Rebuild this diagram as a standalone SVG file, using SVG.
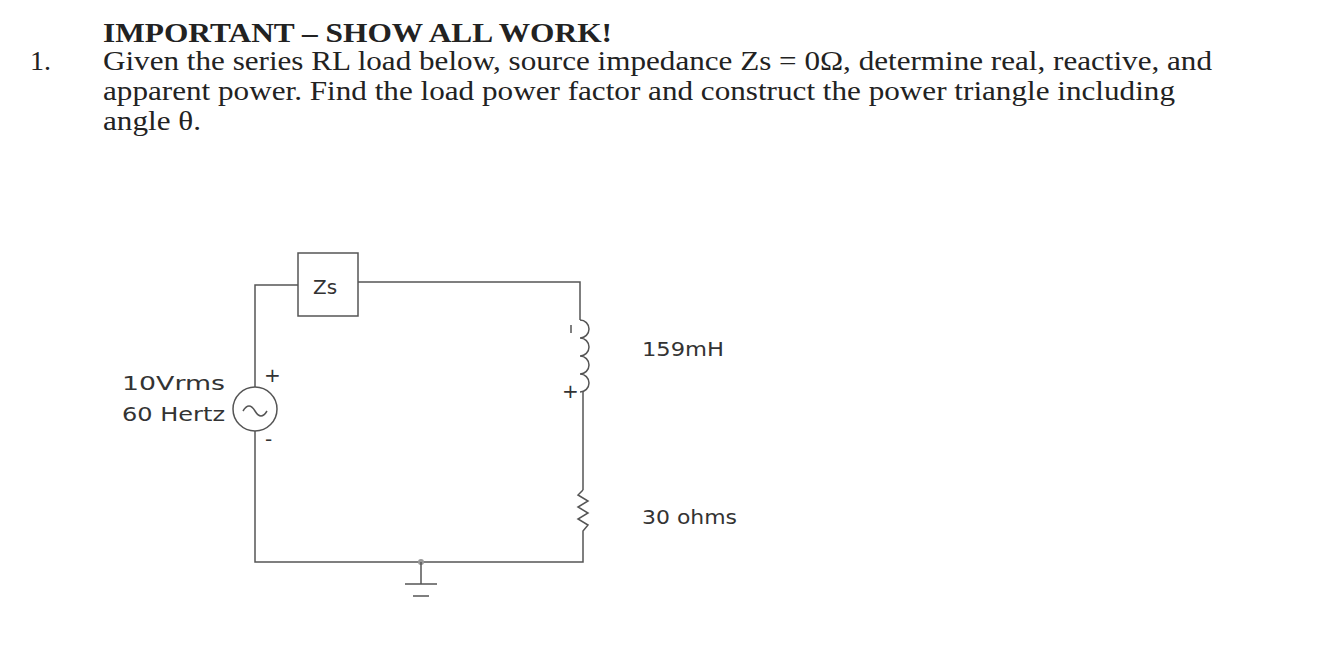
<svg xmlns="http://www.w3.org/2000/svg" width="1338" height="650" viewBox="0 0 1338 650">
<style>
.t{font-family:"Liberation Serif",serif;font-size:28px;fill:#222}
.c{font-family:"DejaVu Sans",sans-serif;font-size:20px;fill:#333}
.w{fill:none;stroke:#555;stroke-width:1.5}
</style>
<rect width="1338" height="650" fill="#fff"/>
<text class="t" x="103" y="42" font-weight="bold" textLength="509" lengthAdjust="spacingAndGlyphs">IMPORTANT – SHOW ALL WORK!</text>
<text class="t" x="30" y="70">1.</text>
<text class="t" x="103" y="70" textLength="1109" lengthAdjust="spacingAndGlyphs">Given the series RL load below, source impedance Zs = 0Ω, determine real, reactive, and</text>
<text class="t" x="103" y="100" textLength="1072" lengthAdjust="spacingAndGlyphs">apparent power. Find the load power factor and construct the power triangle including</text>
<text class="t" x="103" y="130" textLength="98" lengthAdjust="spacingAndGlyphs">angle θ.</text>
<g id="connectors" class="w">
<path d="M298 285H255V387M255 431V562H583V537M583 490V392M580 320V282H358"/>
</g>
<g id="zs"><rect class="w" x="298" y="253" width="60" height="63"/><text class="c" x="313" y="294">Zs</text></g>
<g id="source">
<circle class="w" cx="255" cy="409" r="22"/>
<path class="w" d="M243 411q6-10 12 0t12 0"/>
<text class="c" x="264" y="382" font-size="13">+</text>
<text class="c" x="265" y="446" font-size="13">-</text>
<text class="c" x="122" y="390" textLength="103" lengthAdjust="spacingAndGlyphs">10Vrms</text>
<text class="c" x="122" y="421" fill="#777" textLength="103" lengthAdjust="spacingAndGlyphs">60 Hertz</text>
</g>
<g id="inductor">
<path class="w" d="M580 320a6 6 0 0 1 0 18a6 6 0 0 1 0 18a6 6 0 0 1 0 18a6 6 0 0 1 0 18"/>
<path class="w" d="M571 325v8"/>
<text class="c" x="562" y="398" font-size="13">+</text>
<text class="c" x="642" y="356" textLength="82" lengthAdjust="spacingAndGlyphs">159mH</text>
</g>
<g id="resistor">
<path class="w" d="M583 490l-5 5l10 6l-10 6l10 6l-10 6l10 6l-5 6v6"/>
<text class="c" x="642" y="524" textLength="95" lengthAdjust="spacingAndGlyphs">30 ohms</text>
</g>
<g id="ground">
<circle cx="421" cy="562" r="3" fill="#999"/>
<path class="w" d="M421 562v22M405 584h32M413 596h16"/>
</g>
</svg>
